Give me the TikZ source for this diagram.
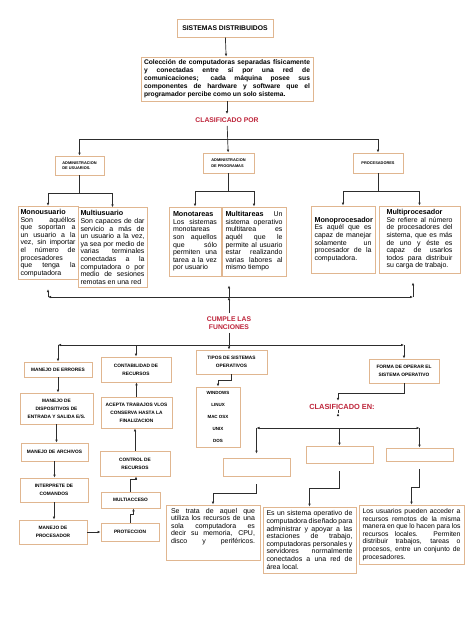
\documentclass[tikz,border=0pt]{standalone}
\usepackage{fontspec}
\setmainfont{Liberation Sans}
\usetikzlibrary{arrows.meta,calc}

\definecolor{borde}{RGB}{224,182,144}
\definecolor{rojo}{RGB}{190,36,58}
\definecolor{trazo}{RGB}{45,45,45}

\newcommand{\titulo}{\fontsize{6.8}{8}\selectfont\bfseries}
\newcommand{\descfont}{\fontsize{6.7}{7.9}\selectfont\bfseries}
\newcommand{\texto}{\fontsize{7}{7.6}\selectfont}
\newcommand{\chico}{\fontsize{4.8}{8}\selectfont\bfseries}
\newcommand{\diminuto}{\fontsize{3.9}{5.6}\selectfont\bfseries}
\newcommand{\rojofont}{\fontsize{6.8}{8}\selectfont\bfseries}
\newcommand{\encabezado}[1]{{\fontsize{7.2}{7.6}\selectfont\bfseries #1}}

\hyphenpenalty=10000
\tolerance=10000
\hbadness=10000
\hfuzz=3pt

\begin{document}
\begin{tikzpicture}[x=1pt,y=-1pt,>={Latex[length=3pt,width=2.6pt]},
  caja/.style={draw=borde,line width=0.8pt,fill=white,inner sep=3pt},
  etiqueta/.style={caja,font=\chico,align=center,inner sep=1pt},
  parrafo/.style={caja,font=\texto,align=justify},
  rotulo/.style={text=rojo,font=\rojofont,align=center},
  conector/.style={draw=trazo,line width=0.7pt}]
\useasboundingbox[fill=white] (0,0) rectangle (474,632);

% clasificacion
\node[caja,font=\titulo,minimum width=96,minimum height=18] (sd) at (225,28) {SISTEMAS DISTRIBUIDOS};
\node[caja,font=\descfont,text width=166,align=justify] (desc) at (227,79) {Colección de computadoras separadas físicamente \linebreak y conectadas entre sí por una red de \linebreak comunicaciones; cada máquina posee sus \linebreak componentes de hardware y software que el \linebreak programador percibe como un solo sistema.};
\node[rotulo] (clasp) at (227,120) {CLASIFICADO POR};

\node[etiqueta,font=\diminuto,align=left,minimum width=49,minimum height=19] (au) at (79.5,165.5) {ADMINISTRACION\\DE USUARIOS.};
\node[etiqueta,font=\diminuto,align=left,minimum width=51,minimum height=20] (ap) at (228.5,163) {ADMINISTRACION\\DE PROGRAMAS};
\node[etiqueta,font=\diminuto,minimum width=50,minimum height=20] (pr) at (378,163) {PROCESADORES};

\node[parrafo,text width=55,inner xsep=2.5pt,minimum height=70] (mono) at (48,243) {\encabezado{Monousuario}\\ Son aquéllos que soportan a un usuario a la vez, sin importar el número de procesadores que tenga la computadora};
\node[parrafo,text width=64,inner xsep=2.5pt,minimum height=79] (multi) at (112.5,247.5) {\encabezado{Multiusuario}\\ Son capaces de dar servicio a más de un usuario a la vez, ya sea por medio de \linebreak varias terminales conectadas a la computadora o por medio de sesiones remotas en una red};
\node[parrafo,text width=44,inner xsep=4pt,minimum height=69] (mt) at (195,241.5) {\encabezado{Monotareas}\\ Los sistemas monotareas son aquellos que sólo permiten una tarea a la vez por usuario};
\node[parrafo,text width=57,inner xsep=3.5pt,minimum height=69] (mlt) at (254,241.5) {\encabezado{Multitareas} Un sistema operativo multitarea es aquél que le permite al usuario estar realizando varias labores al mismo tiempo};
\node[parrafo,text width=57,inner xsep=3.5pt,minimum height=67] (mp) at (343,239.5) {\encabezado{Monoprocesador}\\ Es aquél que es capaz de manejar solamente un procesador de la computadora.};
\node[parrafo,text width=66,minimum width=81,minimum height=67] (mpp) at (419.5,239.5) {\encabezado{Multiprocesador}\\ Se refiere al número \linebreak de procesadores del \linebreak sistema, que es más \linebreak de uno y éste es \linebreak capaz de usarlos \linebreak todos para distribuir \linebreak su carga de trabajo.};

% funciones
\node[rotulo] (cumple) at (229,323) {CUMPLE LAS\\FUNCIONES};

\node[etiqueta,minimum width=68,minimum height=15] (err) at (58,369.5) {MANEJO DE ERRORES};
\node[etiqueta,minimum width=73,minimum height=31] (disp) at (56.5,408.5) {MANEJO DE\\DISPOSITIVOS DE\\ENTRADA Y SALIDA E/S.};
\node[etiqueta,minimum width=67,minimum height=18] (arch) at (54.5,452) {MANEJO DE ARCHIVOS};
\node[etiqueta,minimum width=68,minimum height=24] (interp) at (54,490) {INTERPRETE DE\\COMANDOS};
\node[etiqueta,minimum width=68,minimum height=24] (proc) at (53,532) {MANEJO DE\\PROCESADOR};

\node[etiqueta,minimum width=70,minimum height=25] (contab) at (136,369.5) {CONTABILIDAD DE\\RECURSOS};
\node[etiqueta,minimum width=71,minimum height=31] (acepta) at (136.5,412.5) {ACEPTA TRABAJOS VLOS\\CONSERVA HASTA LA\\FINALIZACION};
\node[etiqueta,minimum width=70,minimum height=25] (control) at (135,463.5) {CONTROL DE\\RECURSOS};
\node[etiqueta,minimum width=59,minimum height=16] (multiacc) at (130.5,500) {MULTIACCESO};
\node[etiqueta,minimum width=58,minimum height=18] (prot) at (130,532) {PROTECCION};

\node[etiqueta,minimum width=71,minimum height=24] (tipos) at (231.5,362) {TIPOS DE SISTEMAS\\OPERATIVOS};
\node[etiqueta,font=\fontsize{4.5}{12}\selectfont\bfseries,minimum width=44,minimum height=60] (so) at (218,417) {WINDOWS\\LINUX\\MAC OSX\\UNIX\\DOS};

\node[etiqueta,minimum width=70,minimum height=24] (forma) at (404,371) {FORMA DE OPERAR EL\\SISTEMA OPERATIVO};
\node[rotulo,font=\fontsize{7.4}{8}\selectfont\bfseries] (clasen) at (342,407) {CLASIFICADO EN:};

\node[caja,minimum width=67,minimum height=18] (v1) at (256.5,467) {};
\node[caja,minimum width=67,minimum height=17] (v2) at (339.5,454.5) {};
\node[caja,minimum width=67,minimum height=13] (v3) at (419.5,454.5) {};

\node[parrafo,text width=84,inner xsep=5pt,text depth=44] (t1) at (213,532.5) {Se trata de aquel que \linebreak utiliza los recursos de una \linebreak sola computadora es \linebreak decir su memoria, CPU, \linebreak disco y periféricos.\linebreak\mbox{}};
\node[parrafo,text width=86,inner xsep=3.5pt,minimum height=66] (t2) at (309.5,540) {Es un sistema operativo de \linebreak computadora diseñado para \linebreak administrar y apoyar a las \linebreak estaciones de trabajo, \linebreak computadoras personales y \linebreak servidores normalmente \linebreak conectados a una red de \linebreak área local.};
\node[parrafo,font=\fontsize{6.8}{7.6}\selectfont,text width=98,inner xsep=3.5pt,minimum height=59] (t3) at (411.5,534.5) {Los usuarios pueden acceder a \linebreak recursos remotos de la misma \linebreak manera en que lo hacen para los \linebreak recursos locales. Permiten \linebreak distribuir trabajos, tareas o \linebreak procesos, entre un conjunto de \linebreak procesadores.};

% barras
\coordinate (b1) at (0,139);
\coordinate (f1) at (0,193);
\coordinate (f2) at (0,191);
\coordinate (b2) at (0,297);
\coordinate (m2) at (229,297);
\coordinate (d2) at (413,297);
\coordinate (b3) at (0,345);
\coordinate (b4) at (0,428);

% conectores de arriba
\draw[conector,->] (sd) -- (desc);
\draw[conector,->] (desc) -- (clasp);
\draw[conector,->] (clasp) -- (ap);
\draw[conector] (au.north |- b1) -- (pr.north |- b1);
\draw[conector,->] (au.north |- b1) -- (au);
\draw[conector,->] (pr.north |- b1) -- (pr);

\draw[conector] (au) -- (au.south |- f1);
\draw[conector] (mono.north |- f1) -- (multi.north |- f1);
\draw[conector,->] (mono.north |- f1) -- (mono);
\draw[conector,->] (multi.north |- f1) -- (multi);
\draw[conector] (ap) -- (ap.south |- f2);
\draw[conector] (mt.north |- f2) -- (mlt.north |- f2);
\draw[conector,->] (mt.north |- f2) -- (mt);
\draw[conector,->] (mlt.north |- f2) -- (mlt);
\draw[conector] (pr) -- (pr.south |- f2);
\draw[conector] (mp.north |- f2) -- (mpp.north |- f2);
\draw[conector,->] (mp.north |- f2) -- (mp);
\draw[conector,->] (mpp.north |- f2) -- (mpp);

% conectores del medio
\draw[conector,<->] (mono.south |- b2) -- (d2);
\draw[conector,->,shorten >=9pt] (mono.south |- b2) -- (mono.south);
\draw[conector,->,shorten >=9pt] (m2) -- (m2 |- mlt.south);
\draw[conector,->,shorten >=9pt] (d2) -- (d2 |- mpp.south);
\draw[conector,->] (cumple) -- (m2);
\draw[conector,->] (cumple.south) -- (cumple.south |- tipos.north);
\draw[conector,<->] (err.north |- b3) -- (forma.north |- b3);
\draw[conector,->] (err.north |- b3) -- (err);
\draw[conector,->] (contab.north |- b3) -- (contab);
\draw[conector,->] (forma.north |- b3) -- (forma);

% columna izquierda
\draw[conector,->] (err.south) -- (err.south |- disp.north);
\draw[conector,->] (disp.south) -- (disp.south |- arch.north);
\draw[conector,->] (arch.south) -- (arch.south |- interp.north);
\draw[conector,->] (interp.south) -- (interp.south |- proc.north);
\draw[conector,->] (proc) -- (prot);
\draw[conector,->] (prot.north) -- ++(0,-8) -| ($(multiacc.south)+(3,0)$);
\draw[conector,->] (multiacc.north) -- ++(0,-12) -| ($(control.south)+(1,0)$);
\draw[conector,->] (control.north) -- (control.north |- acepta.south);
\draw[conector,->] (acepta.north) -- (acepta.north |- contab.south);

% tipos y forma de operar
\draw[conector,->] (tipos.south) -- ++(0,6) -| (so.north);
\draw[conector,->] (forma.south) -- ++(0,10) -| ($(clasen.north)+(-4,0)$);
\draw[conector,->] ($(clasen.south)+(-4,0)$) -- ($(clasen.south)+(-4,0)$ |- b4);
\draw[conector,<->] (v1.north |- b4) -- (v3.north |- b4);
\draw[conector,->,shorten >=4pt] (v1.north |- b4) -- (v1);
\draw[conector,->] (v2.north |- b4) -- (v2);
\draw[conector,->] (v3.north |- b4) -- (v3);

\draw[conector,->,shorten <=8pt] (v1.south) -- ++(0,17) -| (t1.north);
\draw[conector,->,shorten <=8pt] (v2.south) -- ++(0,25) -| (t2.north);
\draw[conector,->,shorten <=8pt] (v3.south) -- ++(0,26) -| (t3.north);
\end{tikzpicture}
\end{document}
